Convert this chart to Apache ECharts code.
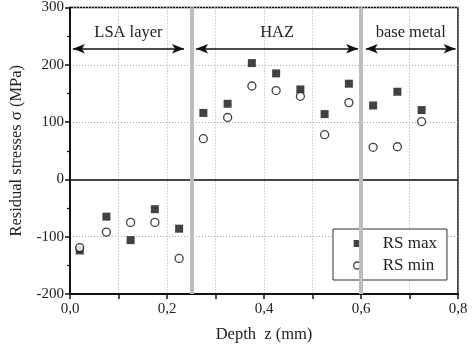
<!DOCTYPE html>
<html><head><meta charset="utf-8">
<script src="https://cdn.jsdelivr.net/npm/echarts@6/dist/echarts.min.js"></script>
<style>html,body{margin:0;padding:0;background:#fff}#c{width:474px;height:364px}</style>
</head><body><div id="c"></div>
<script>
const depth = [0.02, 0.075, 0.125, 0.175, 0.225, 0.275, 0.325, 0.375, 0.425, 0.475, 0.525, 0.575, 0.625, 0.675, 0.725];
const rsMax = [-124, -65, -106, -52, -86, 116, 132, 203, 185, 157, 114, 167, 129, 153, 121];
const rsMin = [-119, -92, -75, -75, -138, 71, 108, 163, 155, 145, 78, 134, 56, 57, 101];
const boundaries = [0.253, 0.6];
const regions = [
  {name: 'LSA layer', from: 0.006, to: 0.235},
  {name: 'HAZ', from: 0.26, to: 0.594},
  {name: 'base metal', from: 0.61, to: 0.795}
];
const arrowY = 228;
const yTicks = [-200, -100, 0, 100, 200, 300];
const xTicks = [0, 0.2, 0.4, 0.6, 0.8];

const FONT = 'Liberation Serif';
const chart = echarts.init(document.getElementById('c'));
const arrowLines = regions.map(r => [
  {coord: [r.from, arrowY], name: r.name},
  {coord: [r.to, arrowY]}
]);
chart.setOption({
  animation: false,
  textStyle: {fontFamily: FONT, color: '#222'},
  grid: {left: 70, right: 16, top: 7, bottom: 70, show: true, borderColor: '#111', borderWidth: 1.5, backgroundColor: 'transparent'},
  xAxis: {
    type: 'value', min: 0, max: 0.8, interval: 0.1,
    name: 'Depth  z (mm)', nameLocation: 'middle', nameGap: 32,
    nameTextStyle: {fontFamily: FONT, fontSize: 16.5, color: '#222'},
    axisLine: {show: true, onZero: false, lineStyle: {color: '#111', width: 2}},
    axisTick: {show: true, inside: false, length: 5, lineStyle: {color: '#111', width: 1.5}},
    axisLabel: {fontFamily: FONT, fontSize: 15, color: '#222', margin: 8,
      formatter: v => { const r = Math.round(v * 10) / 10; return xTicks.some(t => Math.abs(t - r) < 1e-6) ? r.toFixed(1).replace('.', ',') : ''; }},
    splitLine: {show: true, lineStyle: {color: '#aaa', type: [1, 2], width: 1}}
  },
  yAxis: {
    type: 'value', min: -200, max: 300, interval: 100,
    name: 'Residual stresses \u03c3 (MPa)', nameLocation: 'middle', nameGap: 43,
    nameTextStyle: {fontFamily: FONT, fontSize: 16.5, color: '#222'},
    axisLine: {show: true, onZero: false, lineStyle: {color: '#111', width: 2}},
    axisTick: {show: true, inside: false, length: 5, lineStyle: {color: '#111', width: 1.5}},
    minorTick: {show: true, splitNumber: 2, length: 3, lineStyle: {color: '#111', width: 1.2}},
    axisLabel: {fontFamily: FONT, fontSize: 15, color: '#222', margin: 6,
      formatter: v => yTicks.includes(v) ? String(v) : ''},
    splitLine: {show: true, lineStyle: {color: '#aaa', type: [1, 2], width: 1}}
  },
  legend: {
    orient: 'vertical', left: 333, top: 229, width: 113,
    padding: [5, 10, 5, 20], itemGap: 3, itemWidth: 7, itemHeight: 7,
    borderColor: '#333', borderWidth: 1, backgroundColor: '#fff',
    textStyle: {fontFamily: FONT, fontSize: 17, color: '#222', padding: [0, 0, 0, 17], lineHeight: 19},
    data: [
      {name: 'RS max', icon: 'rect', itemStyle: {color: '#111', borderWidth: 0}},
      {name: 'RS min', icon: 'circle', itemStyle: {color: '#fff', borderColor: '#111', borderWidth: 1.3}}
    ]
  },
  series: [
    {
      name: 'RS max', type: 'scatter', symbol: 'rect', symbolSize: 8,
      itemStyle: {color: '#111'},
      data: depth.map((d, i) => [d, rsMax[i]]),
      z: 5,
      markLine: {
        silent: true, symbol: ['none', 'none'], animation: false,
        lineStyle: {color: '#111', type: 'solid', width: 1.5},
        label: {show: false},
        data: [{yAxis: 0}]
      }
    },
    {
      name: 'RS min', type: 'scatter', symbol: 'circle', symbolSize: 8,
      itemStyle: {color: '#fff', borderColor: '#111', borderWidth: 1.3},
      data: depth.map((d, i) => [d, rsMin[i]]),
      z: 5,
      markLine: {
        silent: true, symbol: ['none', 'none'], animation: false,
        lineStyle: {color: '#bdbdbd', type: 'solid', width: 4},
        label: {show: false},
        data: boundaries.map(b => ({xAxis: b}))
      }
    },
    {
      name: 'arrows', type: 'scatter', data: [], silent: true,
      markLine: {
        silent: true, symbol: ['arrow', 'arrow'], symbolSize: [7, 12], animation: false,
        lineStyle: {color: '#111', type: 'solid', width: 1.5},
        label: {show: true, position: 'insideMiddleTop', distance: 8,
          fontFamily: FONT, fontSize: 16.5, color: '#222', formatter: p => p.name},
        data: arrowLines
      }
    }
  ]
});
</script></body></html>
